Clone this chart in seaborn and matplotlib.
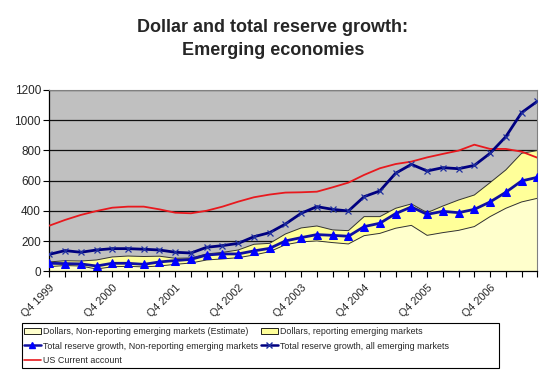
import numpy as np
import pandas as pd
import matplotlib
matplotlib.use("Agg")
import matplotlib.pyplot as plt
import seaborn as sns
from matplotlib.patches import Patch, Rectangle
from matplotlib.lines import Line2D

# ---- data ----
quarters = ["Q4 1999", "Q1 2000", "Q2 2000", "Q3 2000",
            "Q4 2000", "Q1 2001", "Q2 2001", "Q3 2001",
            "Q4 2001", "Q1 2002", "Q2 2002", "Q3 2002",
            "Q4 2002", "Q1 2003", "Q2 2003", "Q3 2003",
            "Q4 2003", "Q1 2004", "Q2 2004", "Q3 2004",
            "Q4 2004", "Q1 2005", "Q2 2005", "Q3 2005",
            "Q4 2005", "Q1 2006", "Q2 2006", "Q3 2006",
            "Q4 2006", "Q1 2007", "Q2 2007", "Q3 2007"]
tick_labels = ["Q4 1999", "Q4 2000", "Q4 2001", "Q4 2002",
               "Q4 2003", "Q4 2004", "Q4 2005", "Q4 2006"]

dollars_nonreporting = [31, 38, 35, 15, 30, 33, 29, 35, 46, 55, 75, 82, 90, 108, 130, 176,
                        195, 201, 190, 181, 236, 251, 285, 304, 238, 256, 271, 296, 362, 417, 459, 483]
dollars_reporting = [31, 32, 33, 60, 65, 68, 69, 65, 40, 33, 40, 43, 51, 71, 55, 71,
                     92, 99, 84, 88, 126, 111, 132, 142, 150, 176, 201, 209, 225, 254, 322, 316]
total_nonreporting = [53, 51, 49, 35, 53, 53, 46, 62, 71, 79, 108, 115, 115, 135, 152, 201,
                      223, 243, 238, 232, 296, 318, 382, 426, 377, 397, 388, 410, 459, 523, 598, 622]
total_all = [112, 137, 126, 141, 150, 150, 146, 141, 126, 121, 159, 170, 185, 229, 256, 313,
             384, 428, 410, 399, 494, 532, 649, 708, 664, 686, 679, 701, 781, 891, 1050, 1125]
us_current_account = [302, 340, 373, 399, 421, 428, 428, 410, 388, 384, 401, 428, 461, 490, 508, 521,
                      523, 527, 556, 587, 638, 682, 710, 726, 754, 777, 799, 838, 810, 810, 792, 752]

series_names = ["Dollars, Non-reporting emerging markets (Estimate)",
                "Dollars, reporting emerging markets",
                "Total reserve growth, Non-reporting emerging markets",
                "Total reserve growth, all emerging markets",
                "US Current account"]

df = pd.DataFrame({
    "quarter": quarters,
    "idx": np.arange(len(quarters)),
    "dn": dollars_nonreporting,
    "dr": dollars_reporting,
    "tn": total_nonreporting,
    "ta": total_all,
    "us": us_current_account,
})
df["stack"] = df["dn"] + df["dr"]

# ---- styling ----
sns.set_style("ticks")
plt.rcParams["font.family"] = ["Liberation Sans", "DejaVu Sans"]

W, H = 547, 374
fig = plt.figure(figsize=(W / 100, H / 100), dpi=100)
ax = fig.add_axes([49.3 / W, 1 - 271.3 / H, (537.3 - 49.3) / W, (271.3 - 90) / H])
ax.set_facecolor("#C0C0C0")
ax.set_axisbelow(True)

c_pale = "#FFFFCC"
c_yel = "#FFFF99"
c_navy = "#000080"
c_blue = "#0000FF"
c_red = "#E8191E"

ax.fill_between(df["idx"], 0, df["dn"], facecolor=c_pale, edgecolor="none", zorder=2)
ax.fill_between(df["idx"], df["dn"], df["stack"], facecolor=c_yel, edgecolor="none", zorder=2)
ax.plot(df["idx"], df["dn"], color="#333333", lw=0.7, zorder=2.5)
ax.plot(df["idx"], df["stack"], color="#333333", lw=0.7, zorder=2.5)

sns.lineplot(data=df, x="idx", y="us", ax=ax, color=c_red, lw=1.3, zorder=3)
sns.lineplot(data=df, x="idx", y="tn", ax=ax, color="#1010A0", lw=2.0, marker="^",
             markersize=6, markerfacecolor=c_blue, markeredgecolor=c_blue, zorder=4)
sns.lineplot(data=df, x="idx", y="ta", ax=ax, color=c_navy, lw=2.0, marker="x",
             markersize=5, markeredgecolor="#2030A0", markeredgewidth=0.9, zorder=5)

ax.set_xlim(0, len(quarters) - 1)
ax.set_ylim(0, 1200)
ax.set_yticks(range(0, 1201, 200))
ax.yaxis.grid(True, color="#111111", lw=0.9)
ax.xaxis.grid(False)

ax.set_xticks(df["idx"])
lbls = [q if q in tick_labels else "" for q in df["quarter"]]
ax.set_xticklabels(lbls, rotation=45, ha="right", rotation_mode="anchor", fontsize=7.8)
ax.tick_params(axis="x", length=4, width=0.8, color="black", pad=4)
ax.tick_params(axis="y", length=4, width=0.8, color="black", labelsize=8.5, pad=2)
ax.set_xlabel("")
ax.set_ylabel("")

for s in ["left", "bottom"]:
    ax.spines[s].set_color("black")
    ax.spines[s].set_linewidth(0.9)
ax.spines["right"].set_visible(True)
ax.spines["right"].set_color("#808080")
ax.spines["top"].set_visible(True)
ax.spines["top"].set_color("#808080")

fig.text(273 / W, 1 - 19 / H, "Dollar and total reserve growth:\nEmerging economies",
         ha="center", va="top", fontsize=13, fontweight="bold", linespacing=1.45)

handles = [
    Patch(facecolor=c_pale, edgecolor="black", lw=0.6),
    Patch(facecolor=c_yel, edgecolor="black", lw=0.6),
    Line2D([], [], color="#1010A0", lw=1.8, marker="^", markersize=4.5,
           markerfacecolor=c_blue, markeredgecolor=c_blue),
    Line2D([], [], color=c_navy, lw=1.8, marker="x", markersize=4, markeredgecolor="#2030A0"),
    Line2D([], [], color=c_red, lw=1.2),
]
order = [0, 2, 4, 1, 3]
leg = fig.legend([handles[i] for i in order], [series_names[i] for i in order],
                 loc="upper left", bbox_to_anchor=(24 / W, 1 - 327 / H),
                 ncol=2, fontsize=6.4, frameon=False, numpoints=1,
                 handlelength=1.9, handletextpad=0.25, borderpad=0.0,
                 labelspacing=0.62, columnspacing=0.3, borderaxespad=0)
fig.patches.append(Rectangle((22 / W, 1 - 368 / H), (499 - 22) / W, (368 - 323) / H,
                             transform=fig.transFigure, facecolor="white",
                             edgecolor="black", lw=0.8, zorder=0))

fig.savefig("out.png", dpi=100)
